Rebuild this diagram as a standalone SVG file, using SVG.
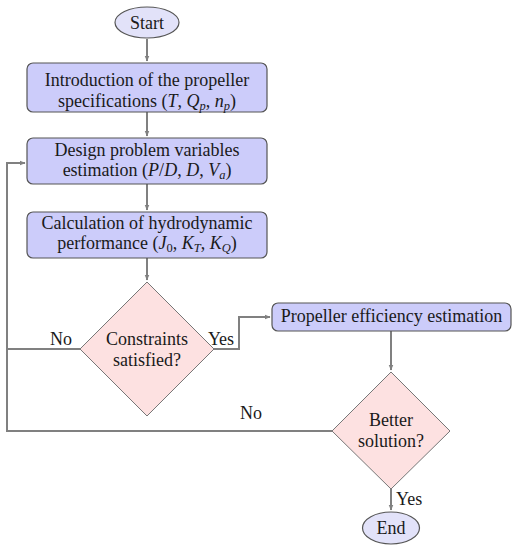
<svg xmlns="http://www.w3.org/2000/svg" width="516" height="550" viewBox="0 0 516 550">
<defs>
<marker id="ah" viewBox="0 0 10 10" refX="9" refY="5" markerWidth="6" markerHeight="6" markerUnits="userSpaceOnUse" orient="auto">
<path d="M0,1 L10,5 L0,9 z" fill="#808080"/>
</marker>
<style>
text{font-family:"Liberation Serif","Times New Roman",serif;font-size:18px;fill:#1a1a1a;text-anchor:middle}
.box{fill:#ccccfa;stroke:#555;stroke-width:1.2}
.term{fill:#e2e2f9;stroke:#555;stroke-width:1.2}
.dec{fill:#fde1e1;stroke:#777;stroke-width:1}
.c{fill:none;stroke:#808080;stroke-width:2}
.i{font-style:italic}
.s{font-size:12.5px;font-style:italic;baseline-shift:-3px}
.n{font-size:12.5px;baseline-shift:-3px}
</style>
</defs>
<rect width="516" height="550" fill="#fff"/>
<g id="connectors">
<path class="c" d="M147,39 V61" marker-end="url(#ah)"/>
<path class="c" d="M147,112 V136" marker-end="url(#ah)"/>
<path class="c" d="M147,184 V210" marker-end="url(#ah)"/>
<path class="c" d="M147,258 V280" marker-end="url(#ah)"/>
<path class="c" d="M213,349 H239 V317 H270" marker-end="url(#ah)"/>
<path class="c" d="M391,331 V370" marker-end="url(#ah)"/>
<path class="c" d="M80,349 H7"/>
<path class="c" d="M332,431 H7 V163 H25" marker-end="url(#ah)"/>
<path class="c" d="M391,489 V510" marker-end="url(#ah)"/>
<text x="61" y="345">No</text>
<text x="221" y="345">Yes</text>
<text x="251" y="419">No</text>
<text x="396" y="505" style="text-anchor:start">Yes</text>
</g>
<g id="start">
<ellipse class="term" cx="147" cy="22.5" rx="32" ry="15.5"/>
<text x="147" y="28.5">Start</text>
</g>
<g id="intro">
<rect class="box" x="27" y="63" width="240" height="49" rx="6"/>
<text x="147" y="86">Introduction of the propeller</text>
<text x="147" y="106.5">specifications (<tspan class="i">T</tspan>, <tspan class="i">Q</tspan><tspan class="s">p</tspan>, <tspan class="i">n</tspan><tspan class="s">p</tspan>)</text>
</g>
<g id="design">
<rect class="box" x="27" y="138" width="240" height="46" rx="6"/>
<text x="147" y="155.5">Design problem variables</text>
<text x="147" y="176">estimation (<tspan class="i">P</tspan>/<tspan class="i">D</tspan>, <tspan class="i">D</tspan>, <tspan class="i">V</tspan><tspan class="s">a</tspan>)</text>
</g>
<g id="calc">
<rect class="box" x="27" y="212" width="240" height="46" rx="6"/>
<text x="147" y="228.5">Calculation of hydrodynamic</text>
<text x="147" y="249">performance (<tspan class="i">J</tspan><tspan class="n">0</tspan>, <tspan class="i">K</tspan><tspan class="s">T</tspan>, <tspan class="i">K</tspan><tspan class="s">Q</tspan>)</text>
</g>
<g id="constraints">
<polygon class="dec" points="147,282 214,349 147,416 80,349"/>
<text x="147" y="345">Constraints</text>
<text x="147" y="366">satisfied?</text>
</g>
<g id="efficiency">
<rect class="box" x="272" y="303" width="239" height="28" rx="6"/>
<text x="391.5" y="321.5">Propeller efficiency estimation</text>
</g>
<g id="better">
<polygon class="dec" points="391,372 450,431 391,489 332,431"/>
<text x="391" y="426">Better</text>
<text x="391" y="446.5">solution?</text>
</g>
<g id="end">
<ellipse class="term" cx="391" cy="528" rx="28.5" ry="16"/>
<text x="391" y="534">End</text>
</g>
</svg>
